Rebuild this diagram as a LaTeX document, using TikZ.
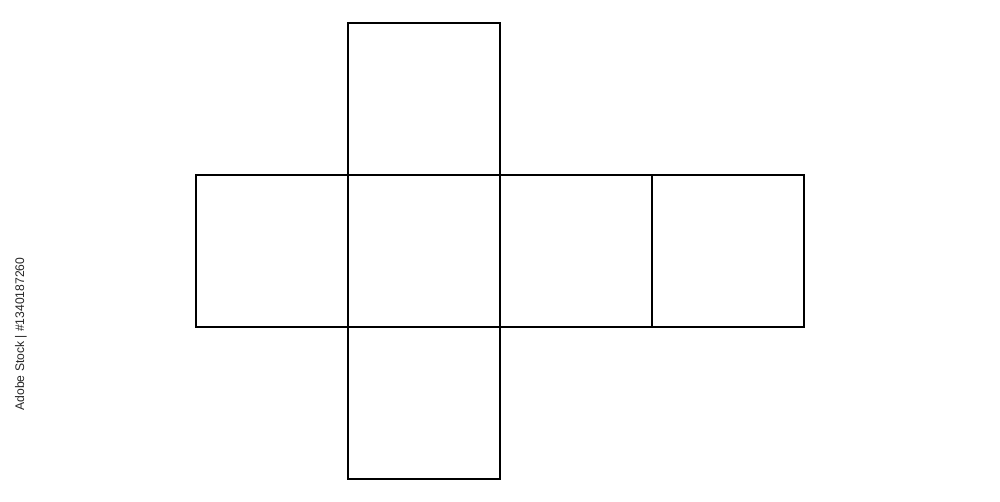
\documentclass[tikz,border=0pt]{standalone}
\usepackage{fontspec}
\setmainfont{Liberation Sans}
\begin{document}
\begin{tikzpicture}[x=1pt,y=-1pt,
  face/.style={draw=black,line width=2pt,minimum width=152pt,minimum height=152pt,inner sep=0pt,anchor=north west}]
\useasboundingbox[fill=white] (0,0) rectangle (1000,502);
\node[face] (top) at (347,22) {};
\node[face] (left) at (195,174) {};
\node[face] (front) at (347,174) {};
\node[face] (right) at (499,174) {};
\node[face] (back) at (651,174) {};
\node[face] (bottom) at (347,326) {};
\node[rotate=90,text=black!85,font=\fontsize{12.5}{13}\selectfont,inner sep=0pt,xscale=0.97] (wm) at (21,334) {Adobe Stock | \#1340187260};
\end{tikzpicture}
\end{document}
